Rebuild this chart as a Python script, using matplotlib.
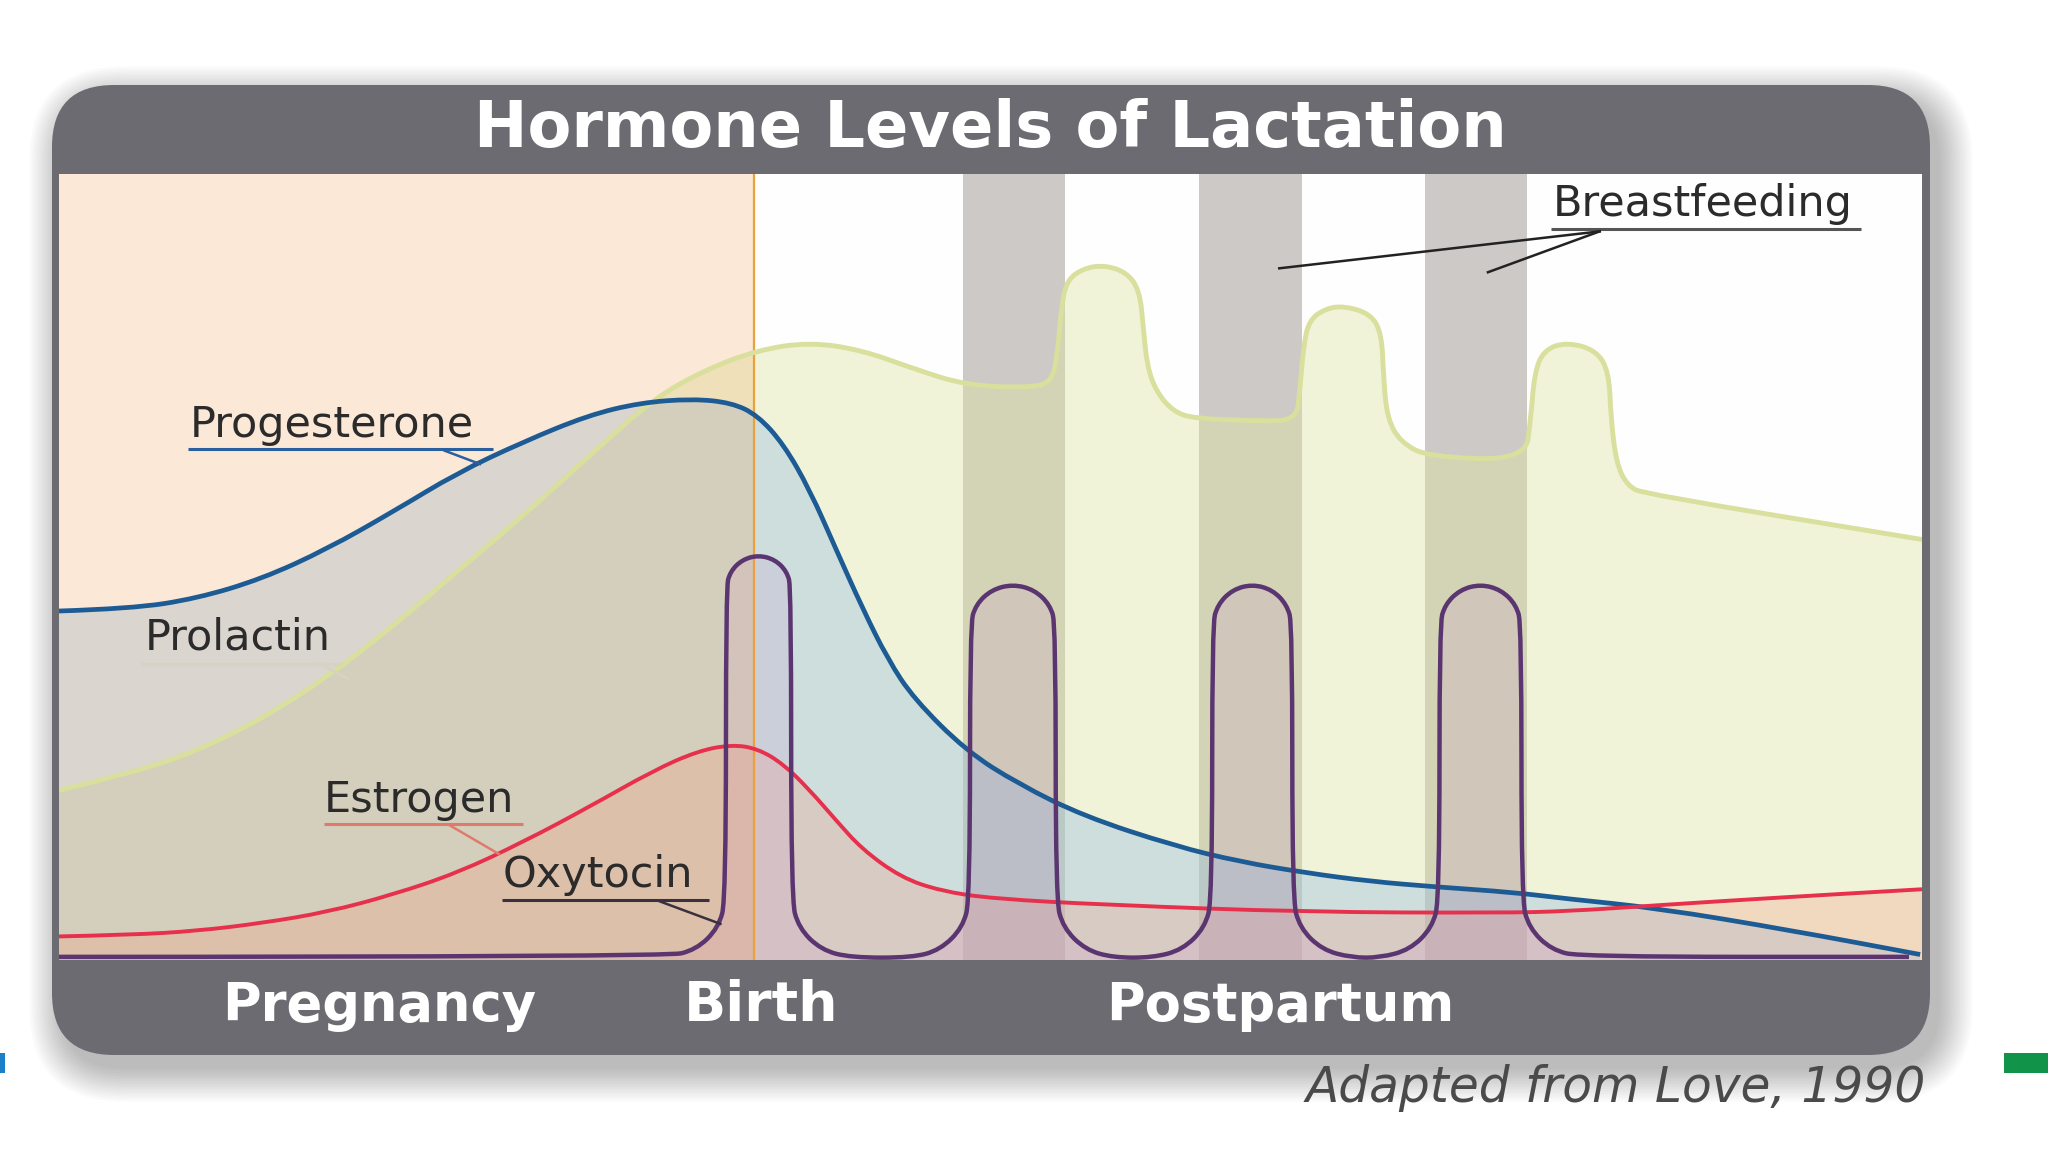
import matplotlib
matplotlib.use("Agg")
import matplotlib.pyplot as plt
from matplotlib.patches import FancyBboxPatch, Rectangle, PathPatch
from matplotlib.path import Path

plt.rcParams['font.family'] = ['DejaVu Sans']

TITLE = "Hormone Levels of Lactation"
PHASES = ["Pregnancy", "Birth", "Postpartum"]
SOURCE = "Adapted from Love, 1990"

# time axis 0..100 (pregnancy -> postpartum), levels 0..100 (relative)
BIRTH = 37.3
FEEDINGS = [(48.5, 54.0), (61.2, 66.7), (73.3, 78.8)]

prolactin_t = [0.0, 3.9, 7.4, 10.9, 14.4, 17.9, 21.4, 24.9, 28.4, 31.9,
               34.7, 37.5, 40.3, 43.1, 45.9, 48.7, 52.2, 53.3, 53.6, 53.8,
               54.1, 55.0, 56.1, 57.3, 58.0, 58.2, 58.4, 58.9, 59.8, 60.9,
               64.1, 66.4, 66.6, 66.8, 67.1, 68.0, 69.0, 70.4, 71.0, 71.1,
               71.3, 72.0, 73.5, 78.7, 79.0, 79.2, 79.7, 80.9, 82.5, 83.2,
               83.3, 83.6, 84.2, 85.1, 100.0]
prolactin_lvl = [21.6, 23.8, 26.6, 30.7, 36.0, 42.4, 49.5, 56.5, 64.0, 71.4,
                 75.1, 77.6, 78.6, 77.6, 75.2, 73.1, 72.8, 73.6, 77.2, 83.1,
                 86.5, 88.0, 88.4, 87.5, 85.2, 80.6, 75.6, 72.3, 69.8, 68.9,
                 68.6, 68.6, 72.3, 78.1, 81.4, 82.9, 83.2, 82.2, 79.7, 73.9,
                 68.9, 65.9, 64.0, 63.6, 68.9, 74.7, 77.6, 78.6, 77.6, 74.8,
                 68.9, 63.1, 60.3, 59.3, 53.5]

progesterone_t = [0.0, 3.9, 7.4, 10.9, 14.4, 17.9, 21.4, 24.9, 28.4, 31.2,
                  34.0, 36.1, 37.5, 38.9, 40.3, 41.7, 43.1, 44.5, 45.9, 48.7,
                  51.5, 55.0, 59.9, 63.4, 66.9, 70.4, 73.9, 78.1, 80.9, 85.8,
                  92.9, 99.9]
progesterone_lvl = [44.4, 44.7, 46.0, 48.5, 52.3, 57.0, 62.0, 65.9, 69.3, 70.9,
                    71.4, 70.9, 69.3, 65.6, 59.8, 52.3, 44.9, 38.2, 33.2, 26.6,
                    22.4, 18.3, 14.5, 12.5, 11.1, 10.0, 9.3, 8.6, 7.8, 6.6,
                    3.8, 0.7]

estrogen_t = [0.0, 3.9, 7.4, 10.9, 14.4, 17.9, 21.4, 24.9, 28.4, 31.9,
              34.3, 36.1, 37.5, 38.9, 40.3, 41.7, 43.1, 45.2, 47.3, 50.1,
              56.4, 66.9, 77.4, 81.0, 86.0, 92.0, 100.0]
estrogen_lvl = [3.0, 3.2, 3.7, 4.7, 6.1, 8.3, 11.1, 15.0, 19.4, 24.1,
                26.6, 27.4, 26.9, 24.9, 21.6, 17.8, 14.1, 10.5, 8.8, 7.8,
                7.0, 6.1, 6.0, 6.2, 7.0, 7.9, 9.0]

oxytocin_t = [0.0, 32.6, 34.2, 35.4, 35.8,
              35.8, 36.03, 36.68, 37.55, 38.43, 39.07, 39.3,
              39.3, 39.7, 40.9, 42.5, 45.8, 47.3, 48.5, 48.9,
              48.9, 49.21, 50.05, 51.2, 52.35, 53.19, 53.5,
              53.5, 53.9, 55.1, 56.6, 58.7, 60.3, 61.5, 61.9,
              61.9, 62.19, 62.98, 64.05, 65.13, 65.91, 66.2,
              66.2, 66.6, 67.8, 69.4, 70.9, 72.5, 73.7, 74.1,
              74.1, 74.39, 75.2, 76.3, 77.4, 78.21, 78.5,
              78.5, 78.9, 80.1, 81.7, 99.3]
oxytocin_lvl = [0.4, 0.4, 1.3, 4.1, 7.8,
                47.35, 49.43, 50.94, 51.5, 50.94, 49.43, 47.35,
                7.8, 4.1, 1.3, 0.3, 0.3, 1.3, 4.1, 7.8,
                42.65, 45.2, 47.1, 47.8, 47.1, 45.2, 42.65,
                7.8, 4.1, 1.3, 0.3, 0.3, 1.3, 4.1, 7.8,
                42.65, 45.2, 47.1, 47.8, 47.1, 45.2, 42.65,
                7.8, 4.1, 1.3, 0.3, 0.3, 1.3, 4.1, 7.8,
                42.65, 45.2, 47.1, 47.8, 47.1, 45.2, 42.65,
                7.8, 4.1, 1.3, 0.4, 0.4]


def curve_path(xs, ys, base=None):
    # quadratic bezier through the midpoints, so the hand-drawn look stays smooth
    pts = list(zip(xs, ys))
    verts = [pts[0]]
    codes = [Path.MOVETO]
    for i in range(1, len(pts) - 1):
        mid = ((pts[i][0] + pts[i + 1][0]) / 2, (pts[i][1] + pts[i + 1][1]) / 2)
        verts += [pts[i], mid]
        codes += [Path.CURVE3, Path.CURVE3]
    verts.append(pts[-1])
    codes.append(Path.LINETO)
    if base is not None:
        verts += [(xs[-1], base), (xs[0], base), (xs[0], base)]
        codes += [Path.LINETO, Path.LINETO, Path.CLOSEPOLY]
    return Path(verts, codes)


def draw_hormone(ax, xs, ys, line_color, lw, fill_color, alpha, z):
    ax.add_patch(PathPatch(curve_path(xs, ys, base=0), fc=fill_color, ec='none',
                           alpha=alpha, zorder=z))
    ax.add_patch(PathPatch(curve_path(xs, ys), fc='none', ec=line_color, lw=lw,
                           zorder=z + 3, capstyle='butt'))


fig = plt.figure(figsize=(20.48, 11.52), dpi=100)
fig.patch.set_facecolor('white')

# background layer in pixel units for the rounded frame
bg = fig.add_axes([0, 0, 1, 1])
bg.set_xlim(0, 2048)
bg.set_ylim(1152, 0)
bg.axis('off')

for i in range(14):
    g = 2.5 * i
    bg.add_patch(FancyBboxPatch((62 - g, 99 - g), 1878 + 2 * g, 970 + 2 * g,
                                boxstyle="round,pad=0,rounding_size=%d" % (62 + g),
                                fc='black', ec='none', alpha=0.018))
bg.add_patch(FancyBboxPatch((52, 85), 1878, 970,
                            boxstyle="round,pad=0,rounding_size=62",
                            fc='#6c6b71', ec='none'))

bg.text(990, 129, TITLE, color='white', fontsize=46, fontweight='bold',
        ha='center', va='center')
for label, xc, fs in zip(PHASES, [379, 761, 1280], [38, 40, 38]):
    bg.text(xc, 1006, label, color='white', fontsize=fs, fontweight='bold',
            ha='center', va='center')
bg.text(1926, 1088, SOURCE, color='#4a4a4a', fontsize=35, style='italic',
        ha='right', va='center')

bg.add_patch(Rectangle((0, 1053), 5, 20, fc='#1b80c8', ec='none'))
bg.add_patch(Rectangle((2004, 1053), 44, 20, fc='#11934a', ec='none'))

# plot area
ax = fig.add_axes([59 / 2048, 192 / 1152, 1863 / 2048, 786 / 1152])
ax.set_facecolor('#fefefe')
ax.set_xlim(0, 100)
ax.set_ylim(0, 100)
ax.set_xticks([])
ax.set_yticks([])
for s in ax.spines.values():
    s.set_visible(False)

for a, b in FEEDINGS:
    ax.axvspan(a, b, color='#cdc9c6', lw=0, zorder=0.5)

draw_hormone(ax, prolactin_t, prolactin_lvl, '#d9df9c', 3.5, '#dde3a0', 0.4, 1.0)
draw_hormone(ax, progesterone_t, progesterone_lvl, '#1d5b94', 3.4, '#8cb9e4', 0.35, 1.2)
draw_hormone(ax, estrogen_t, estrogen_lvl, '#e6304c', 2.8, '#f4a08a', 0.3, 1.4)
draw_hormone(ax, oxytocin_t, oxytocin_lvl, '#5a3570', 3.2, '#c58fd0', 0.18, 1.6)

# pregnancy tint and birth marker
ax.axvspan(0, BIRTH, color='#f29a4a', alpha=0.21, lw=0, zorder=2)
ax.axvline(BIRTH, color='#e9a23b', lw=1.6, zorder=3)

# labels with underline and leader line
labels = [
    ("Progesterone", 7.0, 68.1, (6.9, 23.3, 65.0), '#2a5fa0', [(20.7, 64.8), (22.6, 63.1)]),
    ("Prolactin", 4.6, 41.0, (4.4, 15.2, 37.7), '#d4d4c0', [(14.0, 37.7), (15.5, 35.8)]),
    ("Estrogen", 14.2, 20.4, (14.2, 24.9, 17.3), '#e07a6c', [(21.0, 17.1), (23.6, 13.5)]),
    ("Oxytocin", 23.8, 10.8, (23.8, 34.9, 7.6), '#3a3040', [(32.2, 7.5), (35.5, 4.6)]),
]
for text, tx, ty, (u0, u1, uy), ucol, lead in labels:
    ax.text(tx, ty, text, fontsize=31, color='#2b2b2b', ha='left', va='center', zorder=6)
    ax.plot([u0, u1], [uy, uy], color=ucol, lw=2.2, zorder=6, solid_capstyle='butt')
    ax.plot([p[0] for p in lead], [p[1] for p in lead], color=ucol, lw=1.8, zorder=6)

ax.text(80.2, 96.2, "Breastfeeding", fontsize=31, color='#2b2b2b', ha='left', va='center', zorder=6)
ax.plot([80.1, 96.7], [93.0, 93.0], color='#555555', lw=2.2, zorder=6, solid_capstyle='butt')
ax.plot([82.7, 65.5], [92.7, 88.0], color='#222222', lw=1.8, zorder=6)
ax.plot([82.7, 76.7], [92.7, 87.5], color='#222222', lw=1.8, zorder=6)

fig.savefig("out.png", dpi=100)
